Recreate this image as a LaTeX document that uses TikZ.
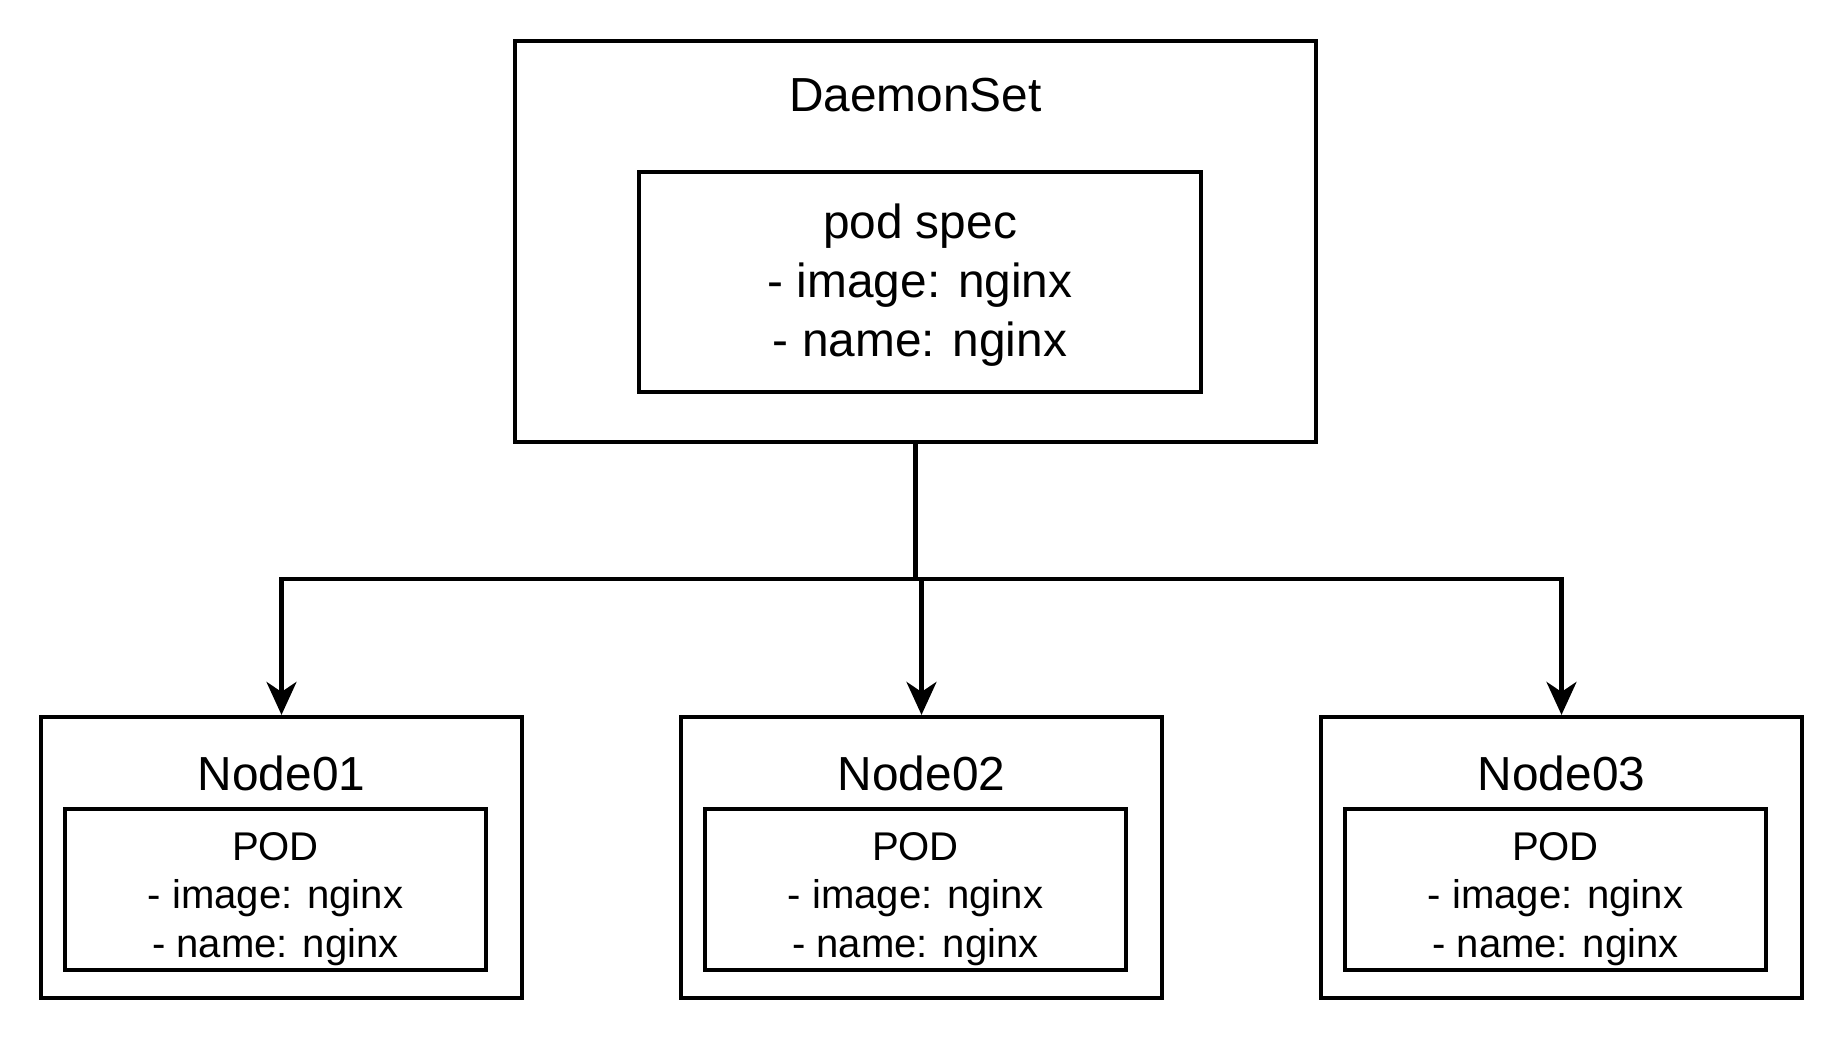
\documentclass[tikz,border=0pt]{standalone}
\usepackage{fontspec}
\setmainfont{Liberation Sans}
\usetikzlibrary{arrows.meta}

\begin{document}
\begin{tikzpicture}[
  box/.style={draw, line width=1.2pt, inner sep=0pt},
  bigtext/.style={font=\fontsize{13.6}{16.8}\selectfont, align=center},
  podtext/.style={font=\fontsize{11.4}{13.8}\selectfont, align=center},
  arr/.style={-{Stealth[length=0.33cm,width=0.3cm,inset=0.1cm]}, line width=1.2pt}
]
\useasboundingbox (0,0) rectangle (18.44,-10.44);

\node[box, minimum width=8.01cm, minimum height=4.01cm] (DS) at (9.155,-2.415) {};
\node[bigtext] (DSlabel) at (9.155,-0.95) {DaemonSet};
\node[box, minimum width=5.62cm, minimum height=2.2cm] (spec) at (9.2,-2.82) {};
\node[bigtext] (specText) at (9.2,-2.85) {pod spec\\- image: nginx\\- name: nginx};

\node[box, minimum width=4.81cm, minimum height=2.81cm] (N1) at (2.815,-8.575) {};
\node[bigtext] (N1label) at (2.815,-7.73) {Node01};
\node[box, minimum width=4.21cm, minimum height=1.61cm] (P1) at (2.755,-8.895) {};
\node[podtext] (P1text) at (2.755,-8.99) {POD\\- image: nginx\\- name: nginx};

\node[box, minimum width=4.81cm, minimum height=2.81cm] (N2) at (9.215,-8.575) {};
\node[bigtext] (N2label) at (9.215,-7.73) {Node02};
\node[box, minimum width=4.21cm, minimum height=1.61cm] (P2) at (9.155,-8.895) {};
\node[podtext] (P2text) at (9.155,-8.99) {POD\\- image: nginx\\- name: nginx};

\node[box, minimum width=4.81cm, minimum height=2.81cm] (N3) at (15.615,-8.575) {};
\node[bigtext] (N3label) at (15.615,-7.73) {Node03};
\node[box, minimum width=4.21cm, minimum height=1.61cm] (P3) at (15.555,-8.895) {};
\node[podtext] (P3text) at (15.555,-8.99) {POD\\- image: nginx\\- name: nginx};

\coordinate (J) at (9.155,-5.79);
\draw[line width=1.2pt] (DS.south) -- (J);
\draw[arr] (J) -| (N1.north);
\draw[arr] (J) -| (N2.north);
\draw[arr] (J) -| (N3.north);
\end{tikzpicture}
\end{document}
